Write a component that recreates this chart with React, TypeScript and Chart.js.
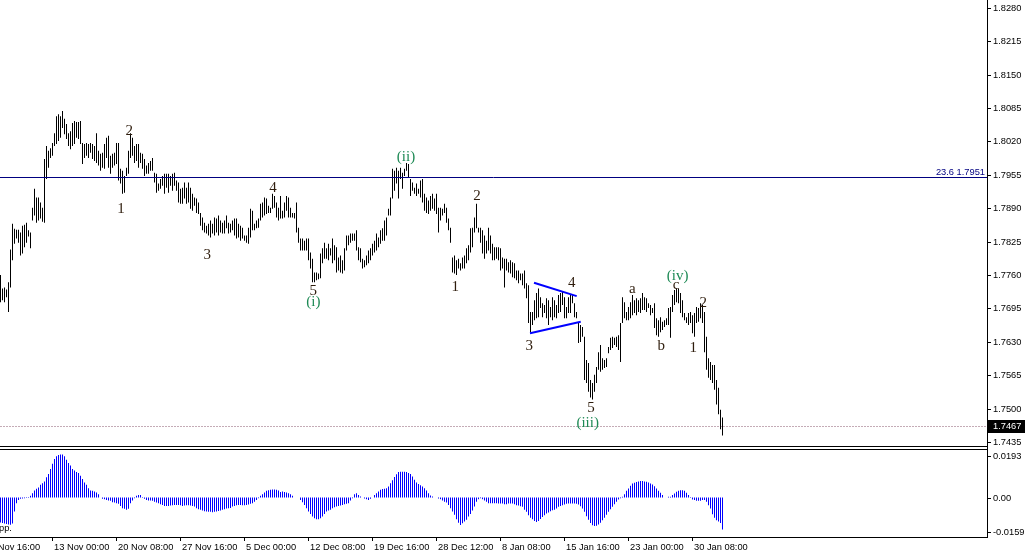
import React, { useEffect, useRef } from "react";
import { Chart, registerables } from "chart.js";

Chart.register(...registerables);

// ---- DATA (H4 bars) ----
const barHigh: number[] = [
  1.7760, 1.7734, 1.7736, 1.7732, 1.7746, 1.7810, 1.7860, 1.7850, 1.7848, 1.7848,
  1.7843, 1.7856, 1.7858, 1.7862, 1.7847, 1.7843, 1.7891, 1.7928, 1.7911, 1.7911,
  1.7901, 1.7891, 1.7986, 1.8011, 1.8002, 1.8007, 1.8017, 1.8036, 1.8069, 1.8073,
  1.8069, 1.8079, 1.8064, 1.8054, 1.8036, 1.8040, 1.8056, 1.8060, 1.8058, 1.8058,
  1.8060, 1.8017, 1.8015, 1.8017, 1.8015, 1.8017, 1.8015, 1.8011, 1.8036, 1.8002,
  1.7996, 1.7998, 1.8015, 1.8027, 1.8031, 1.7992, 1.7996, 1.7998, 1.8017, 1.8017,
  1.7967, 1.7963, 1.7953, 1.7969, 1.8002, 1.8036, 1.8027, 1.8011, 1.8015, 1.8015,
  1.7998, 1.7996, 1.7986, 1.7973, 1.7978, 1.7982, 1.7988, 1.7959, 1.7957, 1.7938,
  1.7947, 1.7953, 1.7957, 1.7957, 1.7957, 1.7953, 1.7957, 1.7959, 1.7944, 1.7940,
  1.7928, 1.7930, 1.7940, 1.7930, 1.7940, 1.7930, 1.7918, 1.7911, 1.7909, 1.7901,
  1.7881, 1.7872, 1.7862, 1.7856, 1.7860, 1.7866, 1.7860, 1.7872, 1.7870, 1.7876,
  1.7866, 1.7862, 1.7866, 1.7876, 1.7862, 1.7860, 1.7866, 1.7870, 1.7870, 1.7860,
  1.7856, 1.7852, 1.7837, 1.7837, 1.7852, 1.7889, 1.7885, 1.7860, 1.7866, 1.7870,
  1.7899, 1.7901, 1.7911, 1.7909, 1.7895, 1.7891, 1.7918, 1.7914, 1.7901, 1.7891,
  1.7914, 1.7885, 1.7901, 1.7914, 1.7911, 1.7891, 1.7881, 1.7881, 1.7901, 1.7852,
  1.7831, 1.7831, 1.7827, 1.7831, 1.7831, 1.7804, 1.7792, 1.7765, 1.7765, 1.7763,
  1.7802, 1.7812, 1.7823, 1.7812, 1.7821, 1.7812, 1.7831, 1.7818, 1.7814, 1.7794,
  1.7798, 1.7789, 1.7812, 1.7837, 1.7837, 1.7841, 1.7841, 1.7841, 1.7847, 1.7814,
  1.7812, 1.7792, 1.7789, 1.7798, 1.7808, 1.7812, 1.7821, 1.7827, 1.7841, 1.7833,
  1.7847, 1.7851, 1.7866, 1.7872, 1.7889, 1.7911, 1.7967, 1.7963, 1.7969, 1.7963,
  1.7969, 1.7959, 1.7967, 1.7978, 1.7976, 1.7947, 1.7940, 1.7930, 1.7938, 1.7928,
  1.7944, 1.7947, 1.7918, 1.7911, 1.7905, 1.7914, 1.7918, 1.7909, 1.7918, 1.7891,
  1.7891, 1.7889, 1.7899, 1.7891, 1.7870, 1.7852, 1.7794, 1.7798, 1.7789, 1.7792,
  1.7783, 1.7794, 1.7798, 1.7812, 1.7818, 1.7851, 1.7852, 1.7872, 1.7899, 1.7852,
  1.7852, 1.7847, 1.7837, 1.7827, 1.7852, 1.7837, 1.7821, 1.7814, 1.7814, 1.7814,
  1.7812, 1.7794, 1.7792, 1.7792, 1.7785, 1.7789, 1.7785, 1.7783, 1.7769, 1.7769,
  1.7763, 1.7763, 1.7769, 1.7744, 1.7740, 1.7688, 1.7688, 1.7711, 1.7725, 1.7734,
  1.7717, 1.7705, 1.7702, 1.7715, 1.7711, 1.7698, 1.7717, 1.7711, 1.7702, 1.7721,
  1.7725, 1.7727, 1.7717, 1.7698, 1.7717, 1.7721, 1.7721, 1.7705, 1.7688, 1.7667,
  1.7663, 1.7659, 1.7640, 1.7595, 1.7589, 1.7556, 1.7550, 1.7566, 1.7581, 1.7610,
  1.7624, 1.7598, 1.7595, 1.7598, 1.7620, 1.7638, 1.7640, 1.7638, 1.7640, 1.7643,
  1.7667, 1.7717, 1.7707, 1.7688, 1.7698, 1.7707, 1.7721, 1.7711, 1.7715, 1.7711,
  1.7715, 1.7725, 1.7717, 1.7715, 1.7705, 1.7702, 1.7696, 1.7705, 1.7676, 1.7672,
  1.7678, 1.7669, 1.7672, 1.7676, 1.7696, 1.7698, 1.7721, 1.7731, 1.7734, 1.7734,
  1.7725, 1.7711, 1.7686, 1.7678, 1.7686, 1.7688, 1.7682, 1.7686, 1.7698, 1.7696,
  1.7705, 1.7702, 1.7688, 1.7640, 1.7598, 1.7591, 1.7585, 1.7585, 1.7556, 1.7541,
  1.7498, 1.7483,
];

const barLow: number[] = [
  1.7707, 1.7711, 1.7707, 1.7717, 1.7688, 1.7736, 1.7789, 1.7821, 1.7831, 1.7823,
  1.7798, 1.7802, 1.7814, 1.7823, 1.7835, 1.7812, 1.7866, 1.7876, 1.7862, 1.7866,
  1.7870, 1.7864, 1.7862, 1.7947, 1.7969, 1.7988, 1.7992, 1.8011, 1.8015, 1.8021,
  1.8027, 1.8046, 1.8034, 1.8025, 1.8011, 1.8005, 1.8011, 1.8015, 1.8027, 1.8025,
  1.8015, 1.7976, 1.7988, 1.7992, 1.7988, 1.7998, 1.7986, 1.7982, 1.7978, 1.7973,
  1.7963, 1.7969, 1.7967, 1.7988, 1.7969, 1.7957, 1.7969, 1.7973, 1.7976, 1.7944,
  1.7938, 1.7918, 1.7920, 1.7953, 1.7957, 1.7988, 1.7992, 1.7978, 1.7982, 1.7969,
  1.7978, 1.7967, 1.7953, 1.7957, 1.7957, 1.7963, 1.7963, 1.7940, 1.7920, 1.7924,
  1.7928, 1.7934, 1.7918, 1.7930, 1.7920, 1.7934, 1.7924, 1.7934, 1.7924, 1.7901,
  1.7899, 1.7899, 1.7909, 1.7899, 1.7901, 1.7889, 1.7885, 1.7895, 1.7881, 1.7879,
  1.7856, 1.7847, 1.7843, 1.7841, 1.7837, 1.7833, 1.7841, 1.7837, 1.7843, 1.7837,
  1.7843, 1.7841, 1.7841, 1.7851, 1.7841, 1.7843, 1.7847, 1.7837, 1.7831, 1.7833,
  1.7827, 1.7831, 1.7827, 1.7823, 1.7821, 1.7833, 1.7847, 1.7847, 1.7851, 1.7852,
  1.7866, 1.7872, 1.7876, 1.7879, 1.7881, 1.7881, 1.7889, 1.7891, 1.7872, 1.7866,
  1.7870, 1.7870, 1.7872, 1.7885, 1.7872, 1.7872, 1.7872, 1.7870, 1.7843, 1.7823,
  1.7808, 1.7808, 1.7808, 1.7808, 1.7789, 1.7773, 1.7746, 1.7746, 1.7750, 1.7752,
  1.7754, 1.7783, 1.7792, 1.7792, 1.7789, 1.7798, 1.7783, 1.7789, 1.7765, 1.7769,
  1.7765, 1.7763, 1.7769, 1.7808, 1.7818, 1.7823, 1.7827, 1.7827, 1.7808, 1.7789,
  1.7785, 1.7773, 1.7775, 1.7779, 1.7783, 1.7789, 1.7798, 1.7804, 1.7808, 1.7814,
  1.7821, 1.7827, 1.7827, 1.7837, 1.7876, 1.7876, 1.7909, 1.7924, 1.7938, 1.7909,
  1.7947, 1.7928, 1.7953, 1.7963, 1.7949, 1.7914, 1.7924, 1.7918, 1.7914, 1.7918,
  1.7911, 1.7901, 1.7885, 1.7881, 1.7879, 1.7885, 1.7889, 1.7885, 1.7879, 1.7843,
  1.7866, 1.7876, 1.7881, 1.7862, 1.7847, 1.7823, 1.7765, 1.7763, 1.7760, 1.7773,
  1.7769, 1.7773, 1.7773, 1.7783, 1.7789, 1.7804, 1.7814, 1.7843, 1.7851, 1.7843,
  1.7823, 1.7802, 1.7792, 1.7802, 1.7808, 1.7802, 1.7789, 1.7789, 1.7792, 1.7789,
  1.7769, 1.7773, 1.7736, 1.7769, 1.7765, 1.7763, 1.7756, 1.7754, 1.7750, 1.7744,
  1.7750, 1.7740, 1.7734, 1.7715, 1.7667, 1.7649, 1.7663, 1.7672, 1.7676, 1.7678,
  1.7696, 1.7678, 1.7686, 1.7676, 1.7663, 1.7678, 1.7672, 1.7678, 1.7676, 1.7686,
  1.7688, 1.7702, 1.7676, 1.7676, 1.7686, 1.7686, 1.7705, 1.7678, 1.7676, 1.7628,
  1.7630, 1.7640, 1.7556, 1.7550, 1.7533, 1.7522, 1.7518, 1.7533, 1.7550, 1.7576,
  1.7572, 1.7576, 1.7579, 1.7581, 1.7608, 1.7614, 1.7618, 1.7624, 1.7620, 1.7614,
  1.7591, 1.7667, 1.7676, 1.7672, 1.7672, 1.7676, 1.7682, 1.7686, 1.7682, 1.7688,
  1.7686, 1.7692, 1.7692, 1.7688, 1.7696, 1.7682, 1.7686, 1.7657, 1.7643, 1.7640,
  1.7649, 1.7653, 1.7659, 1.7663, 1.7663, 1.7638, 1.7688, 1.7702, 1.7707, 1.7705,
  1.7686, 1.7678, 1.7672, 1.7667, 1.7663, 1.7667, 1.7647, 1.7640, 1.7667, 1.7669,
  1.7676, 1.7667, 1.7610, 1.7576, 1.7560, 1.7556, 1.7550, 1.7537, 1.7508, 1.7489,
  1.7460, 1.7448,
];

const oscValues: number[] = [
  -0.0115, -0.0118, -0.0120, -0.0122, -0.0124, -0.0125, -0.0120, -0.0065, -0.0026, -0.0011,
  -0.0006, -0.0005, -0.0003, -0.0002, 0.0002, 0.0008, 0.0020, 0.0032, 0.0040, 0.0046,
  0.0059, 0.0066, 0.0074, 0.0093, 0.0108, 0.0131, 0.0156, 0.0178, 0.0190, 0.0196,
  0.0198, 0.0198, 0.0190, 0.0174, 0.0159, 0.0147, 0.0131, 0.0124, 0.0117, 0.0113,
  0.0100, 0.0085, 0.0069, 0.0059, 0.0043, 0.0032, 0.0031, 0.0028, 0.0023, 0.0015,
  0, -0.0006, -0.0008, -0.0011, -0.0014, -0.0015, -0.0022, -0.0023, -0.0026, -0.0029,
  -0.0039, -0.0049, -0.0052, -0.0057, -0.0052, -0.0026, -0.0014, -0.0003, 0.0008, 0.0012,
  0.0012, 0.0002, -0.0006, -0.0011, -0.0014, -0.0014, -0.0015, -0.0019, -0.0023, -0.0026,
  -0.0031, -0.0034, -0.0039, -0.0039, -0.0039, -0.0037, -0.0036, -0.0034, -0.0034, -0.0034,
  -0.0036, -0.0039, -0.0037, -0.0036, -0.0036, -0.0037, -0.0039, -0.0042, -0.0049, -0.0054,
  -0.0057, -0.0060, -0.0063, -0.0065, -0.0066, -0.0066, -0.0068, -0.0066, -0.0065, -0.0062,
  -0.0060, -0.0057, -0.0054, -0.0051, -0.0049, -0.0048, -0.0042, -0.0039, -0.0036, -0.0034,
  -0.0034, -0.0036, -0.0036, -0.0034, -0.0032, -0.0029, -0.0026, -0.0019, -0.0011, -0.0003,
  0.0008, 0.0015, 0.0023, 0.0031, 0.0034, 0.0036, 0.0037, 0.0037, 0.0036, 0.0032,
  0.0025, 0.0028, 0.0025, 0.0023, 0.0020, 0.0015, 0.0008, 0, 0, 0,
  -0.0011, -0.0022, -0.0034, -0.0049, -0.0065, -0.0076, -0.0088, -0.0096, -0.0100, -0.0100,
  -0.0096, -0.0088, -0.0076, -0.0065, -0.0060, -0.0057, -0.0049, -0.0045, -0.0042, -0.0039,
  -0.0037, -0.0034, -0.0031, -0.0029, -0.0026, -0.0014, -0.0003, 0.0015, 0.0020, 0.0012,
  0.0005, 0, -0.0005, -0.0008, -0.0011, -0.0006, 0, 0.0012, 0.0020, 0.0028,
  0.0036, 0.0039, 0.0040, 0.0043, 0.0051, 0.0066, 0.0079, 0.0094, 0.0107, 0.0117,
  0.0119, 0.0119, 0.0119, 0.0117, 0.0113, 0.0108, 0.0097, 0.0082, 0.0069, 0.0062,
  0.0056, 0.0051, 0.0043, 0.0032, 0.0020, 0.0009, 0.0005, 0, 0, -0.0005,
  -0.0008, -0.0014, -0.0019, -0.0023, -0.0034, -0.0049, -0.0065, -0.0080, -0.0100, -0.0116,
  -0.0127, -0.0119, -0.0111, -0.0103, -0.0088, -0.0076, -0.0060, -0.0042, -0.0019, -0.0008,
  -0.0003, -0.0008, -0.0014, -0.0019, -0.0026, -0.0026, -0.0026, -0.0026, -0.0026, -0.0028,
  -0.0028, -0.0028, -0.0031, -0.0031, -0.0028, -0.0028, -0.0028, -0.0031, -0.0036, -0.0037,
  -0.0040, -0.0043, -0.0056, -0.0066, -0.0082, -0.0093, -0.0100, -0.0108, -0.0113, -0.0108,
  -0.0099, -0.0090, -0.0082, -0.0074, -0.0069, -0.0063, -0.0059, -0.0056, -0.0051, -0.0043,
  -0.0039, -0.0036, -0.0032, -0.0029, -0.0028, -0.0028, -0.0028, -0.0028, -0.0029, -0.0032,
  -0.0040, -0.0051, -0.0066, -0.0086, -0.0102, -0.0117, -0.0128, -0.0131, -0.0130, -0.0124,
  -0.0116, -0.0105, -0.0093, -0.0079, -0.0066, -0.0054, -0.0043, -0.0031, -0.0020, -0.0009,
  -0.0003, 0.0003, 0.0015, 0.0031, 0.0042, 0.0054, 0.0065, 0.0068, 0.0071, 0.0074,
  0.0076, 0.0076, 0.0074, 0.0073, 0.0069, 0.0065, 0.0060, 0.0052, 0.0042, 0.0031,
  0.0022, 0.0011, 0, 0, 0.0003, 0.0003, 0.0011, 0.0019, 0.0026, 0.0031,
  0.0034, 0.0034, 0.0031, 0.0022, 0.0011, -0.0002, -0.0009, -0.0012, -0.0015, -0.0015,
  -0.0015, -0.0012, -0.0012, -0.0020, -0.0036, -0.0051, -0.0077, -0.0093, -0.0105, -0.0110,
  -0.0117, -0.0148,
];

const priceTicks: number[] = [
  1.8280, 1.8215, 1.8150, 1.8085, 1.8020, 1.7955, 1.7890,
  1.7825, 1.7760, 1.7695, 1.7630, 1.7565, 1.7500, 1.7435,
];
const oscTicks: number[] = [0.0193, 0.0, -0.0159];
const oscTickLabels: string[] = ["0.0193", "0.00", "-0.0159"];

const dateLabels: string[] = [
  "3 Nov 16:00", "13 Nov 00:00", "20 Nov 08:00", "27 Nov 16:00", "5 Dec 00:00", "12 Dec 08:00",
  "19 Dec 16:00", "28 Dec 12:00", "8 Jan 08:00", "15 Jan 16:00", "23 Jan 00:00", "30 Jan 08:00",
];
const dateLabelBars: number[] = [-6, 26, 58, 90, 122, 154, 186, 218, 250, 282, 314, 346];

const fibPrice = 1.7951;
const fibText = "23.6 1.7951";
const lastPrice = 1.7467;

const waveTexts: string[] = ["1", "2", "3", "4", "5", "(i)", "(ii)", "1", "2", "3", "4", "5", "(iii)", "a", "b", "c", "(iv)", "2", "1"];
const waveBars: number[] = [60.25, 64.4, 103.4, 136.25, 156.4, 156.4, 202.75, 227.4, 238.25, 264.4, 285.6, 295.25, 293.6, 315.9, 330.4, 337.75, 338.6, 351.4, 346.4];
const wavePrices: number[] = [1.7889, 1.8041, 1.7798, 1.7929, 1.7728, 1.7707, 1.7989, 1.7737, 1.7914, 1.7621, 1.7745, 1.7501, 1.7472, 1.7733, 1.7621, 1.7741, 1.7758, 1.7705, 1.7618];
const waveMajor: boolean[] = [false, false, false, false, false, true, true, false, false, false, false, false, true, false, false, false, true, false, false];

const triUpperBars: number[] = [266.75, 288.1];
const triUpperPrices: number[] = [1.7745, 1.7719];
const triLowerBars: number[] = [264.75, 290.1];
const triLowerPrices: number[] = [1.7647, 1.7669];

// ---- LAYOUT / STYLE ----
const W = 1025;
const H = 554;
const PLOT_RIGHT = 987;
const MAIN_BOTTOM = 446;
const OSC_TOP = 449;
const OSC_BOTTOM = 537;
const X_MIN = -0.25;
const X_MAX = X_MIN + PLOT_RIGHT / 2;
const PRICE_MAX = 1.82952;
const PRICE_MIN = 1.72504;
const OSC_MAX = 0.22926;
const OSC_MIN = -0.0182;
const AXIS_FONT = "9.3px 'Liberation Sans', Arial, sans-serif";
const WAVE_FONT = "15px 'Liberation Serif', 'Times New Roman', serif";
const MINOR_COLOR = "#2E1C0C";
const MAJOR_COLOR = "#1E8A55";

const overlay = {
  id: "mtOverlay",
  beforeDatasetsDraw(chart: any) {
    const ctx = chart.ctx;
    const ys = chart.scales.y;
    const ly = Math.round(ys.getPixelForValue(lastPrice)) + 0.5;
    ctx.save();
    ctx.strokeStyle = "#C4ABB6";
    ctx.lineWidth = 1;
    ctx.setLineDash([2, 1]);
    ctx.beginPath();
    ctx.moveTo(0, ly);
    ctx.lineTo(PLOT_RIGHT, ly);
    ctx.stroke();
    ctx.restore();
  },
  afterDraw(chart: any) {
    const ctx = chart.ctx;
    const xs = chart.scales.x;
    const ys = chart.scales.y;
    const y2 = chart.scales.y2;
    ctx.save();

    // Fibonacci level line + label
    const fy = Math.round(ys.getPixelForValue(fibPrice)) + 0.5;
    ctx.strokeStyle = "#000080";
    ctx.lineWidth = 1;
    ctx.beginPath();
    ctx.moveTo(0, fy);
    ctx.lineTo(PLOT_RIGHT, fy);
    ctx.stroke();
    ctx.font = AXIS_FONT;
    ctx.fillStyle = "#000080";
    ctx.textAlign = "right";
    ctx.textBaseline = "alphabetic";
    ctx.fillText(fibText, PLOT_RIGHT - 2, fy - 3);

    // panel frames
    ctx.strokeStyle = "#000000";
    ctx.beginPath();
    ctx.moveTo(0, MAIN_BOTTOM + 0.5);
    ctx.lineTo(PLOT_RIGHT + 1, MAIN_BOTTOM + 0.5);
    ctx.moveTo(0, OSC_TOP + 0.5);
    ctx.lineTo(PLOT_RIGHT + 1, OSC_TOP + 0.5);
    ctx.moveTo(0, OSC_BOTTOM + 0.5);
    ctx.lineTo(PLOT_RIGHT + 1, OSC_BOTTOM + 0.5);
    ctx.moveTo(PLOT_RIGHT + 0.5, 0);
    ctx.lineTo(PLOT_RIGHT + 0.5, OSC_BOTTOM + 1);
    ctx.stroke();

    // price axis
    ctx.fillStyle = "#000000";
    ctx.textAlign = "left";
    ctx.textBaseline = "middle";
    priceTicks.forEach((p) => {
      const ty = Math.round(ys.getPixelForValue(p));
      ctx.beginPath();
      ctx.moveTo(PLOT_RIGHT + 1, ty + 0.5);
      ctx.lineTo(PLOT_RIGHT + 4, ty + 0.5);
      ctx.stroke();
      ctx.fillText(p.toFixed(4), PLOT_RIGHT + 6, ty + 0.5);
    });

    // last price box
    const lp = Math.round(ys.getPixelForValue(lastPrice));
    ctx.fillStyle = "#000000";
    ctx.fillRect(PLOT_RIGHT + 1, lp - 6, W - PLOT_RIGHT - 1, 13);
    ctx.fillStyle = "#FFFFFF";
    ctx.fillText(lastPrice.toFixed(4), PLOT_RIGHT + 6, lp + 0.5);

    // oscillator axis
    ctx.fillStyle = "#000000";
    oscTicks.forEach((v, k) => {
      const ty = Math.round(y2.getPixelForValue(v));
      ctx.beginPath();
      ctx.moveTo(PLOT_RIGHT + 1, ty + 0.5);
      ctx.lineTo(PLOT_RIGHT + 4, ty + 0.5);
      ctx.stroke();
      ctx.fillText(oscTickLabels[k], PLOT_RIGHT + 6, ty + 0.5);
    });

    // time axis
    ctx.textBaseline = "alphabetic";
    dateLabels.forEach((label, k) => {
      const tx = Math.floor(xs.getPixelForValue(dateLabelBars[k]));
      ctx.beginPath();
      ctx.moveTo(tx + 0.5, OSC_BOTTOM + 1);
      ctx.lineTo(tx + 0.5, OSC_BOTTOM + 4);
      ctx.stroke();
      ctx.fillText(label, tx + 2, 550);
    });

    // indicator window caption (cut off)
    ctx.fillText("pp.", -1, 531);

    // Elliott wave labels
    ctx.font = WAVE_FONT;
    ctx.textAlign = "center";
    ctx.textBaseline = "middle";
    waveTexts.forEach((t, k) => {
      ctx.fillStyle = waveMajor[k] ? MAJOR_COLOR : MINOR_COLOR;
      ctx.fillText(t, xs.getPixelForValue(waveBars[k]), ys.getPixelForValue(wavePrices[k]));
    });

    ctx.restore();
  },
};

export default function App() {
  const ref = useRef<HTMLCanvasElement | null>(null);

  useEffect(() => {
    const canvas = ref.current;
    if (!canvas) return;
    const priceData = barHigh.map((h, i) => ({ x: i, y: [barLow[i], h] }));
    const oscData = oscValues.map((v, i) => ({ x: i, y: v }));
    const upper = triUpperBars.map((b, k) => ({ x: b, y: triUpperPrices[k] }));
    const lower = triLowerBars.map((b, k) => ({ x: b, y: triLowerPrices[k] }));

    const chart = new Chart(canvas, {
      type: "bar",
      data: {
        datasets: [
          {
            type: "line",
            data: upper,
            borderColor: "#0000FF",
            borderWidth: 2,
            pointRadius: 0,
            tension: 0,
            xAxisID: "x",
            yAxisID: "y",
            order: 0,
          } as any,
          {
            type: "line",
            data: lower,
            borderColor: "#0000FF",
            borderWidth: 2,
            pointRadius: 0,
            tension: 0,
            xAxisID: "x",
            yAxisID: "y",
            order: 0,
          } as any,
          {
            type: "bar",
            data: priceData,
            backgroundColor: "#000000",
            barThickness: 1,
            grouped: false,
            inflateAmount: 0,
            borderWidth: 0,
            xAxisID: "x",
            yAxisID: "y",
            order: 1,
          } as any,
          {
            type: "bar",
            data: oscData,
            backgroundColor: "#0000FF",
            barThickness: 1,
            grouped: false,
            inflateAmount: 0,
            borderWidth: 0,
            xAxisID: "x",
            yAxisID: "y2",
            order: 1,
          } as any,
        ],
      },
      options: {
        responsive: false,
        animation: false,
        devicePixelRatio: 1,
        events: [],
        layout: { padding: { left: 0, top: 0, right: W - PLOT_RIGHT, bottom: H - OSC_BOTTOM } },
        plugins: { legend: { display: false }, tooltip: { enabled: false } },
        scales: {
          x: { type: "linear", min: X_MIN, max: X_MAX, display: false, offset: false },
          y: { type: "linear", min: PRICE_MIN, max: PRICE_MAX, display: false, position: "right" },
          y2: { type: "linear", min: OSC_MIN, max: OSC_MAX, display: false, position: "right" },
        },
      } as any,
      plugins: [overlay],
    });
    return () => chart.destroy();
  }, []);

  return (
    <div style={{ position: "fixed", left: 0, top: 0, width: W, height: H, background: "#FFFFFF" }}>
      <canvas ref={ref} width={W} height={H} style={{ display: "block", width: W, height: H }} />
    </div>
  );
}
